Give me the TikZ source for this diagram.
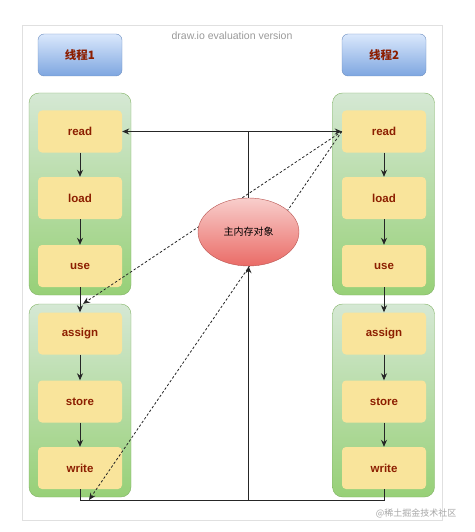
\documentclass[tikz,border=0pt]{standalone}
\usepackage{fontspec}
\setmainfont{Liberation Sans}
\newfontfamily\cjk{Noto Sans CJK SC}
\usetikzlibrary{arrows.meta}
\usetikzlibrary{shapes.geometric}

\definecolor{grpline}{HTML}{82B366}
\definecolor{grptop}{HTML}{D5E8D4}
\definecolor{grpbot}{HTML}{97D077}
\definecolor{opfill}{HTML}{F9E49B}
\definecolor{hdline}{HTML}{6C8EBF}
\definecolor{hdtop}{HTML}{DAE8FC}
\definecolor{hdbot}{HTML}{7EA6E0}
\definecolor{memline}{HTML}{B85450}
\definecolor{memtop}{HTML}{F8CECC}
\definecolor{membot}{HTML}{EA6B66}
\definecolor{txtred}{HTML}{8C1E00}

\tikzset{
  group/.style = {draw = grpline, rounded corners = 10pt, top color = grptop, bottom color = grpbot, minimum width = 102pt},
  opbox/.style = {fill = opfill, rounded corners = 4pt, minimum width = 84pt, minimum height = 42pt, text = txtred, font = \bfseries\fontsize{11.5}{13}\selectfont},
  header/.style = {draw = hdline, rounded corners = 6pt, top color = hdtop, bottom color = hdbot, minimum width = 84pt, minimum height = 42pt, text = txtred, font = \cjk\bfseries\fontsize{11.5}{13}\selectfont},
  memory/.style = {ellipse, draw = memline, top color = memtop, bottom color = membot, minimum width = 101pt, minimum height = 68pt, inner sep = 0pt, font = \cjk\fontsize{10}{12}\selectfont},
  link/.style = {line width = 0.8pt, black!85},
  copy/.style = {line width = 0.8pt, black!85, dash pattern = on 2.5pt off 2pt},
  >={Stealth[length=7pt, width=6pt]}
}

\begin{document}
\begin{tikzpicture}[x = 1pt, y = -1pt]
                \useasboundingbox (0, 0) rectangle (474, 532);
                \draw [black!12] (22, 25) rectangle (442, 520);
                \node [text = black!40, font = \fontsize{10.5}{12}\selectfont] (title) at (232, 36) {draw.io evaluation version};
                \node [header] (thread1) at (80, 55) {线程1};
                \node [header] (thread2) at (384, 55) {线程2};
                \node [group, minimum height = 202pt] (ltop) at (80, 194) {};
                \node [group, minimum height = 193pt] (lbot) at (80, 400.5) {};
                \node [group, minimum height = 202pt] (rtop) at (383.5, 194) {};
                \node [group, minimum height = 193pt] (rbot) at (383.5, 400.5) {};
                \node [opbox] (lread) at (80, 131.5) {read};
                \node [opbox] (lload) at (80, 198) {load};
                \node [opbox] (luse) at (80, 266) {use};
                \node [opbox] (lassign) at (80, 333.5) {assign};
                \node [opbox] (lstore) at (80, 401.5) {store};
                \node [opbox] (lwrite) at (80, 468) {write};
                \node [opbox] (rread) at (384, 131.5) {read};
                \node [opbox] (rload) at (384, 198) {load};
                \node [opbox] (ruse) at (384, 266) {use};
                \node [opbox] (rassign) at (384, 333.5) {assign};
                \node [opbox] (rstore) at (384, 401.5) {store};
                \node [opbox] (rwrite) at (384, 468) {write};
                \coordinate (bottom) at (248.5, 500);
                \coordinate (wend) at (89, 500);
                \draw [copy, ->] (rread.west) -- ([xshift = 3pt]lbot.north);
                \draw [copy, ->] (rread.west) -- (wend);
                \node [memory] (mem) at (248.5, 232) {主内存对象};
                \draw [link, ->] (lread) -- (lload);
                \draw [link, ->] (lload) -- (luse);
                \draw [link, ->] (luse) -- (lassign);
                \draw [link, ->] (lassign) -- (lstore);
                \draw [link, ->] (lstore) -- (lwrite);
                \draw [link, ->] (rread) -- (rload);
                \draw [link, ->] (rload) -- (ruse);
                \draw [link, ->] (ruse) -- (rassign);
                \draw [link, ->] (rassign) -- (rstore);
                \draw [link, ->] (rstore) -- (rwrite);
                \draw [link, ->] (mem.north) |- (lread.east);
                \draw [link, ->] (mem.north) |- (rread.west);
                \draw [link, ->] (lwrite.south) |- (bottom) -- (mem.south);
                \draw [link] (rwrite.south) |- (bottom);
                \node [anchor = east, text = black!35, font = \cjk\fontsize{9}{10}\selectfont] (mark) at (460, 513) {@稀土掘金技术社区};
            \end{tikzpicture}
\end{document}
